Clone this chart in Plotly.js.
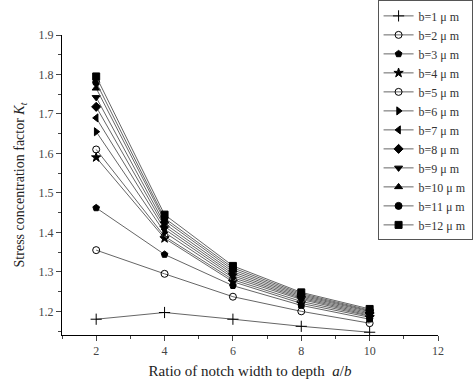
<!DOCTYPE html>
<html>
<head>
<meta charset="utf-8">
<script src="https://cdn.plot.ly/plotly-3.0.1.min.js"></script>
<style>body{margin:0;padding:0;background:#fff}#chart{width:474px;height:385px}</style>
</head>
<body>
<div id="chart"></div>
<script>
const ratios = [2, 4, 6, 8, 10];
const seriesNames = ["b=1 μ m","b=2 μ m","b=3 μ m","b=4 μ m","b=5 μ m","b=6 μ m","b=7 μ m","b=8 μ m","b=9 μ m","b=10 μ m","b=11 μ m","b=12 μ m"];
const b1  = [1.180, 1.197, 1.180, 1.162, 1.147];
const b2  = [1.355, 1.295, 1.237, 1.200, 1.170];
const b3  = [1.462, 1.344, 1.265, 1.215, 1.180];
const b4  = [1.590, 1.385, 1.275, 1.220, 1.185];
const b5  = [1.610, 1.390, 1.280, 1.225, 1.188];
const b6  = [1.655, 1.400, 1.285, 1.230, 1.190];
const b7  = [1.690, 1.408, 1.290, 1.233, 1.193];
const b8  = [1.718, 1.415, 1.295, 1.236, 1.196];
const b9  = [1.742, 1.422, 1.300, 1.239, 1.199];
const b10 = [1.765, 1.430, 1.305, 1.242, 1.201];
const b11 = [1.780, 1.436, 1.310, 1.245, 1.203];
const b12 = [1.795, 1.445, 1.315, 1.248, 1.206];
const allSeries = [b1,b2,b3,b4,b5,b6,b7,b8,b9,b10,b11,b12];
const symbols = ["cross-thin-open","circle-open","pentagon","star","circle-open","triangle-right","triangle-left","diamond","triangle-down","triangle-up","circle","square"];

const traces = allSeries.map((ys, i) => ({
  x: ratios, y: ys, name: seriesNames[i], type: "scatter", mode: "lines+markers",
  line: {color: "#666", width: 1},
  marker: {symbol: symbols[i], size: i === 0 ? 8 : 7, color: "#000",
           line: {color: "#000", width: 1}}
}));

const serif = "Liberation Serif, Times New Roman, serif";
const layout = {
  width: 474, height: 385,
  margin: {l: 62, r: 36, t: 35, b: 50, autoexpand: false},
  paper_bgcolor: "#fff", plot_bgcolor: "#fff",
  showlegend: true,
  legend: {xref: "container", yref: "container", x: 0.997, y: 0.999, xanchor: "right", yanchor: "top",
           bgcolor: "#fff", bordercolor: "#555", borderwidth: 1, maxheight: 1,
           font: {family: serif, size: 12, color: "#333"},
           tracegroupgap: 0, itemwidth: 30},
  xaxis: {
    range: [1, 12], tickvals: [2,4,6,8,10,12], ticks: "outside", ticklen: 5,
    minor: {dtick: 1, tick0: 1, ticks: "outside", ticklen: 3, showgrid: false},
    showline: true, linecolor: "#000", linewidth: 1, showgrid: false, zeroline: false,
    tickfont: {family: serif, size: 12, color: "#444"},
    title: {text: "Ratio of notch width to depth  <i>a</i>/<i>b</i>", font: {family: serif, size: 15, color: "#222"}, standoff: 8}
  },
  yaxis: {
    range: [1.14, 1.9], tickvals: [1.2,1.3,1.4,1.5,1.6,1.7,1.8,1.9], tickformat: ".1f",
    ticks: "outside", ticklen: 5,
    minor: {dtick: 0.05, tick0: 1.15, ticks: "outside", ticklen: 3, showgrid: false},
    showline: true, linecolor: "#000", linewidth: 1, showgrid: false, zeroline: false,
    tickfont: {family: serif, size: 12, color: "#444"},
    title: {text: "Stress concentration factor <i>K<sub>t</sub></i>", font: {family: serif, size: 14, color: "#222"}, standoff: 10}
  }
};
Plotly.newPlot("chart", traces, layout, {displayModeBar: false, staticPlot: true});
</script>
</body>
</html>
